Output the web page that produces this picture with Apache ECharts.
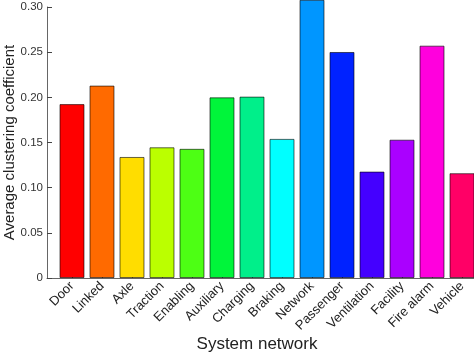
<!DOCTYPE html>
<html>
<head>
<meta charset="utf-8">
<script src="https://cdn.jsdelivr.net/npm/echarts@6/dist/echarts.min.js"></script>
<style>html,body{margin:0;padding:0;background:#fff}#c{width:474px;height:355px}</style>
</head>
<body>
<div id="c"></div>
<script>
const categories = ['Door','Linked','Axle','Traction','Enabling','Auxiliary','Charging','Braking','Network','Passenger','Ventilation','Facility','Fire alarm','Vehicle'];
const values = [0.1925, 0.2130, 0.1340, 0.1447, 0.1430, 0.2000, 0.2008, 0.1540, 0.3080, 0.2502, 0.1178, 0.1531, 0.2572, 0.1160];
const colors = ['#ff0000','#ff6a00','#ffdd00','#bbff00','#4dff14','#00f53a','#00ef8a','#00ffff','#0096ff','#0022ff','#4400ff','#aa00ff','#ff00dd','#ff0066'];
const yTicks = [0, 0.05, 0.10, 0.15, 0.20, 0.25, 0.30];

const idx = categories.map((_, i) => i);
const chart = echarts.init(document.getElementById('c'), null, {renderer: 'canvas'});
const font = 'Liberation Sans, Arial, sans-serif';
chart.setOption({
  animation: false,
  backgroundColor: '#fff',
  grid: {left: 47, right: -13, top: 7, bottom: 77, containLabel: false, outerBoundsMode: 'none'},
  xAxis: {
    type: 'value',
    min: -0.8333, max: 13.8333,
    name: 'System network',
    nameLocation: 'middle',
    nameMoveOverlap: false,
    nameGap: 58,
    nameTextStyle: {fontFamily: font, fontSize: 17, color: '#222', padding: [0, 20, 0, 0]},
    axisLine: {show: true, onZero: false, lineStyle: {color: '#666', width: 1}},
    axisTick: {show: true, inside: true, length: 5, customValues: idx, lineStyle: {color: '#444'}},
    axisLabel: {
      customValues: idx, rotate: 45, margin: 6,
      fontFamily: font, fontSize: 13, color: '#222',
      formatter: v => categories[Math.round(v)]
    },
    splitLine: {show: false}
  },
  yAxis: {
    type: 'value',
    min: 0, max: 0.30, interval: 0.05,
    name: 'Average clustering coefficient',
    nameLocation: 'middle',
    nameMoveOverlap: false,
    nameGap: 30,
    nameTextStyle: {fontFamily: font, fontSize: 15, color: '#222'},
    axisLine: {show: true, onZero: false, lineStyle: {color: '#666', width: 1}},
    axisTick: {show: true, inside: true, length: 5, lineStyle: {color: '#444'}},
    axisLabel: {
      fontFamily: font, fontSize: 11.5, color: '#333', margin: 4,
      customValues: yTicks,
      formatter: v => v === 0 ? '0' : v.toFixed(2)
    },
    splitLine: {show: false}
  },
  series: [{
    type: 'bar',
    clip: false,
    barWidth: 25,
    data: idx.map(i => ({value: [i, values[i]], itemStyle: {color: colors[i]}})),
    itemStyle: {borderColor: 'rgba(0,0,0,0.6)', borderWidth: 1}
  }]
});
</script>
</body>
</html>
